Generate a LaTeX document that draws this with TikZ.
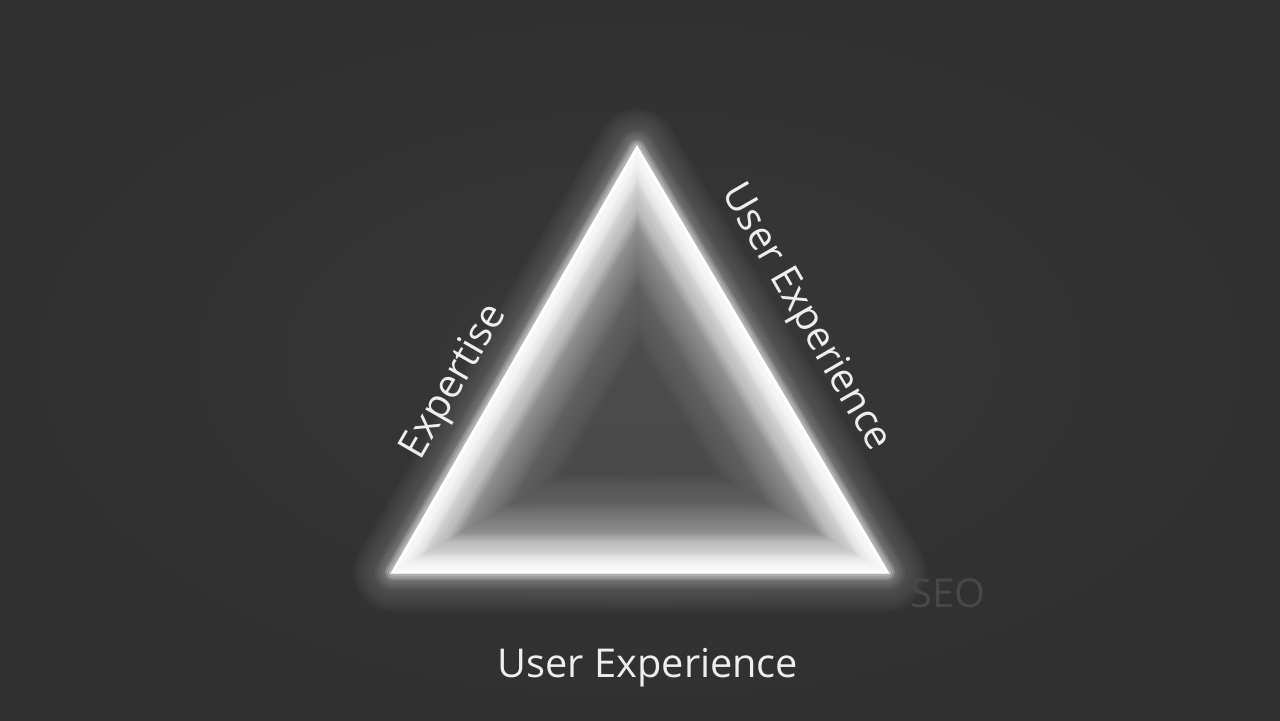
\documentclass[tikz,border=0pt]{standalone}
\usepackage{fontspec}
\setmainfont{Open Sans}
\usetikzlibrary{positioning}
\definecolor{bgdark}{RGB}{48,48,48}
\definecolor{bglight}{RGB}{56,56,56}
\definecolor{seogray}{RGB}{72,72,72}
\definecolor{labelwhite}{RGB}{238,238,238}
\newcommand{\glowline}[2]{\draw[white, opacity=#1, line width=#2*0.01cm, line join=round] (apex) -- (left) -- (right) -- cycle;}

\begin{document}
\begin{tikzpicture}[x=0.01cm, y=-0.01cm,
	edgetext/.style={text=labelwhite, font=\fontsize{11.3}{13}\selectfont, inner sep=0pt}]

	% background
	\useasboundingbox (0,0) rectangle (1280,720);
	\shade[inner color=bglight, outer color=bgdark] (0,0) rectangle (1280,720);

	\coordinate (apex) at (637,148);
	\coordinate (left) at (393,572);
	\coordinate (right) at (887,572);

	% inner glow, fading towards the middle
	\begin{scope}
		\clip (apex) -- (left) -- (right) -- cycle;
		\glowline{0.1}{300}
		\foreach \w in {200,204,...,280}
		{
			\glowline{0.003}{\w}
		}
		\foreach \w in {140,144,...,196}
		{
			\glowline{0.012}{\w}
		}
		\foreach \w in {80,84,...,136}
		{
			\glowline{0.027}{\w}
		}
		\foreach \w in {40,44,...,76}
		{
			\glowline{0.09}{\w}
		}
		\foreach \w in {16,20,...,36}
		{
			\glowline{0.2}{\w}
		}
	\end{scope}

	% outer glow
	\foreach \w in {40,44,...,80}
	{
		\glowline{0.014}{\w}
	}
	\foreach \w in {20,24,...,36}
	{
		\glowline{0.045}{\w}
	}
	\foreach \w in {4,8,...,16}
	{
		\glowline{0.18}{\w}
	}
	\draw[white, line width=0.03cm, line join=miter] (apex) -- (left) -- (right) -- cycle;

	% labels
	\node[edgetext, rotate=60] (expertise) at (455,382) {Expertise};
	\node[edgetext, rotate=-60] (uxside) at (805,318) {User Experience};
	\node[edgetext, anchor=base] (uxbottom) at (648,677) {User Experience};
	\node[edgetext, text=seogray, anchor=base] (seo) at (948,607) {SEO};

\end{tikzpicture}
\end{document}
